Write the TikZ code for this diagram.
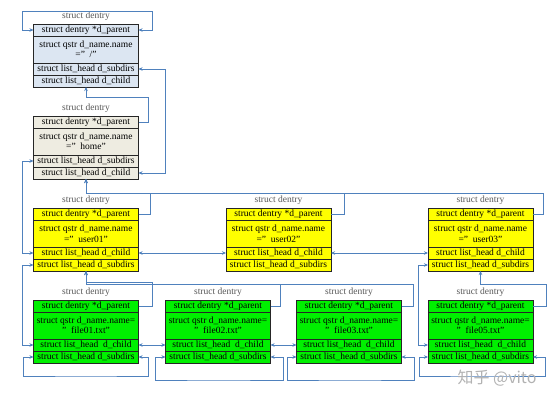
\documentclass[tikz,border=0pt]{standalone}
\usepackage{fontspec}
\setmainfont{Liberation Serif}
\newfontfamily\cjk{Noto Sans CJK SC}
\usepackage{xcolor}
\usepackage{tikz}
\usetikzlibrary{arrows.meta}

\definecolor{rootfill}{RGB}{220,230,242}
\definecolor{homefill}{RGB}{238,236,225}
\definecolor{userfill}{RGB}{255,255,0}
\definecolor{filefill}{RGB}{0,240,0}
\definecolor{linkblue}{RGB}{79,129,189}

\begin{document}
\begin{tikzpicture}[x=1pt, y=-1pt,
    row/.style={draw=black!85, line width=0.8pt, outer sep=0pt, inner sep=0pt, minimum width=105pt, minimum height=12pt, font=\fontsize{9.5}{10.5}\selectfont},
    namerow/.style={row, minimum height=27pt, align=center},
    title/.style={text=black!65, font=\fontsize{9.5}{10.5}\selectfont},
    link/.style={draw=linkblue, line width=0.7pt},
    >={Stealth[length=4pt,width=3.5pt]}]
        \useasboundingbox[fill=white] (0,0) rectangle (554,401);

        % Root dentry
        \node[title] (roottitle) at (86,16) {struct dentry};
        \node[row, fill=rootfill] (rootpar) at (86,30) {struct dentry *d\_parent};
        \node[namerow, fill=rootfill] (rootname) at (86,49.5) {struct qstr d\_name.name\\=”\ \ /”};
        \node[row, fill=rootfill] (rootsub) at (86,69) {struct list\_head d\_subdirs};
        \node[row, fill=rootfill] (rootchild) at (86,81) {struct list\_head d\_child};

        % home
        \node[title] (hometitle) at (86,108) {struct dentry};
        \node[row, fill=homefill] (homepar) at (86,122) {struct dentry *d\_parent};
        \node[namerow, fill=homefill] (homename) at (86,141.5) {struct qstr d\_name.name\\=”\ \ home”};
        \node[row, fill=homefill] (homesub) at (86,161) {struct list\_head d\_subdirs};
        \node[row, fill=homefill] (homechild) at (86,173) {struct list\_head d\_child};

        % Users
        \node[title] (u1title) at (86,200) {struct dentry};
        \node[row, fill=userfill] (u1par) at (86,214) {struct dentry *d\_parent};
        \node[namerow, fill=userfill] (u1name) at (86,233.5) {struct qstr d\_name.name\\=”\ \ user01”};
        \node[row, fill=userfill] (u1child) at (86,253) {struct list\_head d\_child};
        \node[row, fill=userfill] (u1sub) at (86,265) {struct list\_head d\_subdirs};

        \node[title] (u2title) at (278.5,200) {struct dentry};
        \node[row, fill=userfill] (u2par) at (278.5,214) {struct dentry *d\_parent};
        \node[namerow, fill=userfill] (u2name) at (278.5,233.5) {struct qstr d\_name.name\\=”\ \ user02”};
        \node[row, fill=userfill] (u2child) at (278.5,253) {struct list\_head d\_child};
        \node[row, fill=userfill] (u2sub) at (278.5,265) {struct list\_head d\_subdirs};

        \node[title] (u3title) at (480.5,200) {struct dentry};
        \node[row, fill=userfill] (u3par) at (480.5,214) {struct dentry *d\_parent};
        \node[namerow, fill=userfill] (u3name) at (480.5,233.5) {struct qstr d\_name.name\\=”\ \ user03”};
        \node[row, fill=userfill] (u3child) at (480.5,253) {struct list\_head d\_child};
        \node[row, fill=userfill] (u3sub) at (480.5,265) {struct list\_head d\_subdirs};

        % Files
        \node[title] (f1title) at (86,292) {struct dentry};
        \node[row, fill=filefill] (f1par) at (86,306) {struct dentry *d\_parent};
        \node[namerow, fill=filefill] (f1name) at (86,325.5) {struct qstr d\_name.name=\\”\ \ file01.txt”};
        \node[row, fill=filefill] (f1child) at (86,345) {struct list\_head\ \ d\_child};
        \node[row, fill=filefill] (f1sub) at (86,357) {struct list\_head d\_subdirs};

        \node[title] (f2title) at (218,292) {struct dentry};
        \node[row, fill=filefill] (f2par) at (218,306) {struct dentry *d\_parent};
        \node[namerow, fill=filefill] (f2name) at (218,325.5) {struct qstr d\_name.name=\\”\ \ file02.txt”};
        \node[row, fill=filefill] (f2child) at (218,345) {struct list\_head\ \ d\_child};
        \node[row, fill=filefill] (f2sub) at (218,357) {struct list\_head d\_subdirs};

        \node[title] (f3title) at (349,292) {struct dentry};
        \node[row, fill=filefill] (f3par) at (349,306) {struct dentry *d\_parent};
        \node[namerow, fill=filefill] (f3name) at (349,325.5) {struct qstr d\_name.name=\\”\ \ file03.txt”};
        \node[row, fill=filefill] (f3child) at (349,345) {struct list\_head\ \ d\_child};
        \node[row, fill=filefill] (f3sub) at (349,357) {struct list\_head d\_subdirs};

        \node[title] (f5title) at (480.5,292) {struct dentry};
        \node[row, fill=filefill] (f5par) at (480.5,306) {struct dentry *d\_parent};
        \node[namerow, fill=filefill] (f5name) at (480.5,325.5) {struct qstr d\_name.name=\\”\ \ file05.txt”};
        \node[row, fill=filefill] (f5child) at (480.5,345) {struct list\_head\ \ d\_child};
        \node[row, fill=filefill] (f5sub) at (480.5,357) {struct list\_head d\_subdirs};

        % Links root / home
        \draw[link, <->] (rootpar.west) -- ++(-11,0) -- ++(0,-19) -- ++(130,0) -- ++(0,19) -- (rootpar.east);
        \draw[link, <->] (rootsub.east) -- ++(27,0) |- (homechild.east);
        \draw[link, ->] (homepar.east) -- ++(10,0) |- ([yshift=-10pt]rootchild.south) -- (rootchild.south);
        \draw[link, <->] (homesub.west) -- ++(-11,0) |- (u1child.west);

        % Links users
        \draw[link, ->] (u1par.east) -- ++(12,0) |- ([yshift=-14pt]homechild.south) -- (homechild.south);
        \draw[link, ->] (u2par.east) -- ++(13,0) |- ([yshift=-14pt]homechild.south) -- (homechild.south);
        \draw[link, ->] (u3par.east) -- ++(10,0) |- ([yshift=-14pt]homechild.south) -- (homechild.south);
        \draw[link, <->] (u1child) -- (u2child);
        \draw[link, <->] (u2child) -- (u3child);
        \draw[link, <->] (u1sub.west) -- ++(-11,0) |- (f1child.west);
        \draw[link, <->] (u3sub.west) -- ++(-10,0) |- (f5child.west);

        % Links files
        \draw[link, ->] (f1par.east) -- ++(14,0) |- ([yshift=-11pt]u1sub.south) -- (u1sub.south);
        \draw[link, ->] (f2par.east) -- ++(10,0) |- ([yshift=-13pt]u1sub.south) -- (u1sub.south);
        \draw[link, ->] (f3par.east) -- ++(12,0) |- ([yshift=-13pt]u1sub.south) -- (u1sub.south);
        \draw[link, ->] (f5par.east) -- ++(13,0) |- ([yshift=-13pt]u3sub.south) -- (u3sub.south);
        \draw[link, <->] (f1child) -- (f2child);
        \draw[link, <->] (f2child) -- (f3child);

        % Empty d_subdirs lists
        \draw[link, <->] (f1sub.west) -- ++(-10,0) |- ([yshift=-13pt]f1sub.south) -| ([xshift=10pt]f1sub.east) -- (f1sub.east);
        \draw[link, <->] (f2sub.west) -- ++(-10,0) |- ([yshift=-17pt]f2sub.south) -| ([xshift=13pt]f2sub.east) -- (f2sub.east);
        \draw[link, <->] (f3sub.west) -- ++(-9,0) |- ([yshift=-17pt]f3sub.south) -| ([xshift=13pt]f3sub.east) -- (f3sub.east);
        \draw[link, <->] (f5sub.west) -- ++(-9,0) |- ([yshift=-13pt]f5sub.south) -| ([xshift=12pt]f5sub.east) -- (f5sub.east);

        \node[text=black!30, font=\cjk\fontsize{16}{16}\selectfont] (mark) at (497,378) {知乎 @vito};
    \end{tikzpicture}
\end{document}
